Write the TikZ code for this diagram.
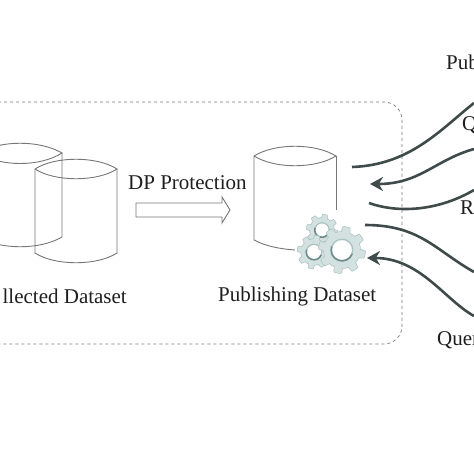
\documentclass[tikz,border=0pt]{standalone}
\usepackage{fontspec}
\setmainfont{Liberation Serif}
\usetikzlibrary{arrows.meta}
\definecolor{flowdark}{HTML}{3F4A4A}
\definecolor{tankgray}{HTML}{777777}
\definecolor{gearbody}{HTML}{D3E1E1}
\definecolor{gearedge}{HTML}{A9BEBE}
\definecolor{gearshade}{HTML}{6F8C8C}
\tikzset{
    tank/.style={draw=tankgray, line width=0.9pt},
    flow/.style={draw=flowdark, line width=2.6pt},
    flowin/.style={flow, -{Stealth[length=13pt,width=14pt]}},
    label/.style={font=\fontsize{21}{24}\selectfont, text=black!88, inner sep=0pt},
    gearwheel/.pic={
        \fill[gearbody, draw=gearedge, line width=0.5pt]
            plot[domain=0:360, samples=145, smooth] (\x:{1+0.12*max(min(3*sin(8*\x),1),-1)}) -- cycle;
        \fill[white] (0,0) circle (0.46);
        \draw[gearshade, line width=1.6pt] (20:0.52) arc (20:200:0.52);
        \draw[gearedge, line width=1pt] (200:0.52) arc (200:380:0.52);
    },
}
\begin{document}
\begin{tikzpicture}[x=1pt, y=-1pt]
    \useasboundingbox (0,0) rectangle (474,474);
    \fill[white] (0,0) rectangle (474,474);

    % Trust boundary
    \draw[dashed, tankgray, line width=0.7pt, rounded corners=18pt] (-20,102) -- (402,102) -- (402,344) -- (-20,344);

    % Collected tanks
    \draw[tank] (-21,153) .. controls (0,140) and (40,140) .. (62,153) .. controls (40,167) and (0,167) .. (-21,153);
    \draw[tank] (62,153) -- (62,237) .. controls (40,250) and (0,250) .. (-21,237);
    \draw[tank] (35,169) .. controls (55,156) and (97,156) .. (117,169) .. controls (97,182) and (55,182) .. (35,169);
    \draw[tank] (35,169) -- (35,253) .. controls (55,266) and (97,266) .. (117,253) -- (117,169);
    \node[label, anchor=east] (collected) at (127,296) {llected Dataset};

    % Protection step
    \node[label, anchor=west] (protect) at (128,183) {DP Protection};
    \draw[tank] (136,203) -- (222,203) -- (222,197) -- (230,210) -- (222,223) -- (222,217) -- (136,217) -- cycle;

    % Publishing tank
    \draw[tank] (254,156) .. controls (275,143) and (315,143) .. (336,156) .. controls (315,169) and (275,169) .. (254,156);
    \draw[tank] (295,250) .. controls (280,249) and (265,246) .. (254,240) -- (254,156);
    \draw[tank] (336,156) -- (336,210);
    \node[label, anchor=west] (publishing) at (218,296) {Publishing Dataset};

    % Gears
    \pic[scale=14] at (322,230) {gearwheel};
    \pic[scale=15] at (314,252) {gearwheel};
    \pic[scale=21] at (342,250) {gearwheel};

    % Ends of the flows
    \coordinate (pubEnd) at (352,167);
    \coordinate (pubFar) at (474,103);
    \coordinate (queryEnd) at (370,184);
    \coordinate (queryFar) at (474,149);
    \coordinate (resEnd) at (369,203);
    \coordinate (resFar) at (474,190);
    \coordinate (outEnd) at (365,225);
    \coordinate (outFar) at (474,272);
    \coordinate (askEnd) at (367,258);
    \coordinate (askFar) at (474,316);

    % Flows
    \draw[flow] (pubEnd) .. controls (410,165) and (440,130) .. (pubFar);
    \draw[flowin] (queryFar) .. controls (435,160) and (420,184) .. (queryEnd);
    \draw[flow] (resEnd) .. controls (400,214) and (440,210) .. (resFar);
    \draw[flow] (outEnd) .. controls (420,225) and (435,250) .. (outFar);
    \draw[flowin] (askFar) .. controls (445,300) and (420,258) .. (askEnd);

    % Labels on the right
    \node[label, anchor=west] (pub) at (446,62) {Pub};
    \node[label, anchor=west] (query) at (462,125) {Q};
    \node[label, anchor=west] (res) at (460,208) {R};
    \node[label, anchor=west] (quer) at (437,340) {Quer};
\end{tikzpicture}
\end{document}
